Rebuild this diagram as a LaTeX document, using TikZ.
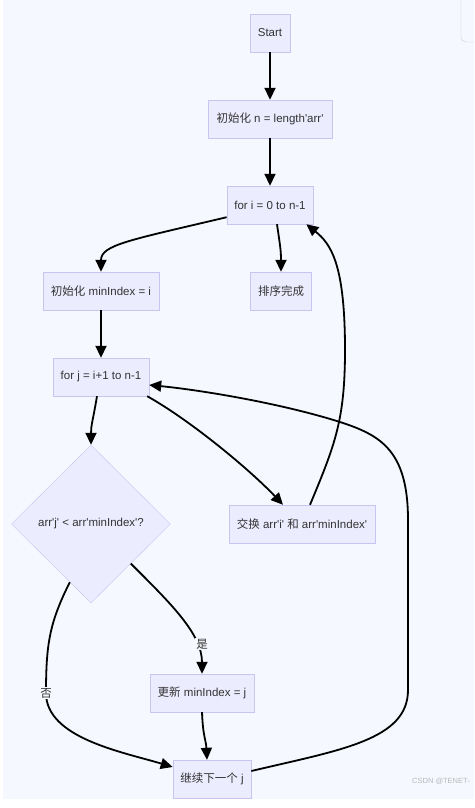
\documentclass[tikz,border=0pt]{standalone}
\usepackage{fontspec}
\setmainfont{Liberation Sans}[Ligatures=TeXOff]
\newfontfamily\cjk{Noto Sans CJK SC}
\usetikzlibrary{shapes,arrows.meta,positioning}
\definecolor{bgcol}{HTML}{F5F8FE}
\definecolor{boxfill}{HTML}{ECECFF}
\definecolor{boxline}{HTML}{C9C5F0}
\definecolor{txtcol}{HTML}{333333}

\begin{document}
\begin{tikzpicture}[x=1pt, y=-1pt,
        box/.style={rectangle, draw=boxline, fill=boxfill, minimum height=38pt, inner xsep=7.5pt, text=txtcol, font=\fontsize{11.5}{14}\selectfont},
        decision/.style={diamond, draw=boxline, fill=boxfill, minimum width=159pt, minimum height=158pt, inner sep=0pt, text=txtcol, font=\fontsize{11.5}{14}\selectfont},
        flow/.style={-{Triangle[length=12pt, width=11pt]}, line width=1.8pt, black},
        tag/.style={fill=bgcol, inner sep=1pt, text=txtcol, font=\fontsize{11.5}{14}\selectfont},
    ]
        % page
        \useasboundingbox (0,0) rectangle (474,808);
        \fill[bgcol] (3,0) rectangle (474,799);
        \draw[gray!40, rounded corners=5pt] (461,0) -- (461,42) -- (474,42);

        % outer loop
        \node[box, minimum width=40pt] (start) at (270, 33) {Start};
        \node[box, minimum width=124pt] (init_n) at (270, 119) {{\cjk 初始化} n = length'arr'};
        \node[box, minimum width=86pt] (loop_i) at (270, 205) {for i = 0 to n-1};
        \node[box, minimum width=116pt] (init_min) at (101, 291) {{\cjk 初始化} minIndex = i};
        \node[box, minimum width=61pt] (done) at (281, 291) {\cjk 排序完成};

        % inner loop
        \node[box, minimum width=96pt] (loop_j) at (101, 377) {for j = i+1 to n-1};
        \node[decision] (check) at (91, 524) {arr'j' < arr'minIndex'?};
        \node[box, minimum width=146pt] (swap) at (302, 524) {{\cjk 交换} arr'i' {\cjk 和} arr'minIndex'};
        \node[box, minimum width=104pt] (update) at (202, 693) {{\cjk 更新} minIndex = j};
        \node[box, minimum width=78pt] (next_j) at (212, 779) {{\cjk 继续下一个} j};

        \draw[flow] (start) -- (init_n);
        \draw[flow] (init_n) -- (loop_i);
        \draw[flow] ([yshift=7pt]loop_i.south west) .. controls +(-97,23) and +(0,-27) .. (init_min.north);
        \draw[flow] ([xshift=7pt]loop_i.south) .. controls +(3,21) and +(0,-22) .. (done.north);
        \draw[flow] (init_min) -- (loop_j);
        \draw[flow] ([xshift=-4pt]loop_j.south) .. controls +(-4,24) and +(0,-20) .. (check.north);
        \draw[flow] ([xshift=-2pt]loop_j.south east) .. controls +(43,24) and +(-33,-35) .. ([xshift=-19pt]swap.north);
        \draw[flow] ([xshift=8pt]swap.north) .. controls +(25,-60) and +(0,70) .. (345,350) .. controls +(0,-85) and +(25,20) .. ([xshift=-7pt]loop_i.south east);
        \draw[flow] (check.south east) .. controls +(40,40) and +(0,-40) .. node[tag, pos=0.74, xshift=6pt] {\cjk 是} (update.north);
        \draw[flow] (check.250) .. controls +(-20,40) and +(0,-50) .. (46,693) node[tag] {\cjk 否} .. controls +(0,45) and +(-50,-15) .. ([yshift=12pt]next_j.west);
        \draw[flow] (update.south) .. controls +(1,25) and +(-1,-20) .. ([xshift=-5pt]next_j.north);
        \draw[flow] ([yshift=8pt]next_j.east) .. controls (340,750) and (408,740) .. (408,690) -- (408,520) .. controls (408,450) and (380,435) .. (340,422) .. controls (280,403) and (200,390) .. ([yshift=-8pt]loop_j.east);

        % watermark
        \node[font=\fontsize{7.5}{9}\selectfont, text=gray!55] (mark) at (441, 781) {CSDN @TENET-};
    \end{tikzpicture}
\end{document}
